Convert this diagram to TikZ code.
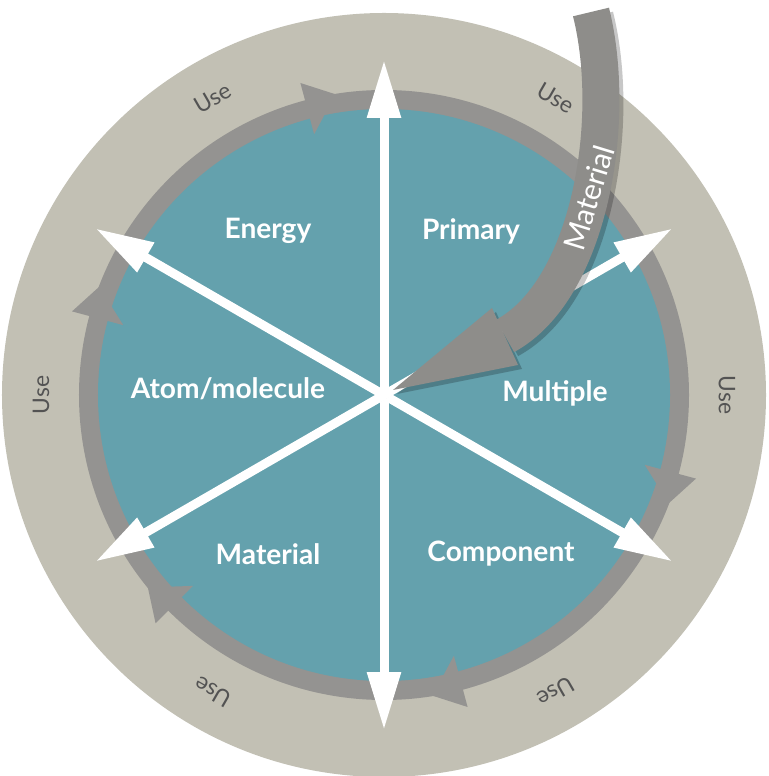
\documentclass[tikz,border=0pt]{standalone}
\usepackage{fontspec}
\setmainfont{Lato}
\usepackage{tikz}
\usetikzlibrary{arrows.meta}

\definecolor{UseBeige}{HTML}{C2C0B4}
\definecolor{RingGray}{HTML}{949391}
\definecolor{CycleTeal}{HTML}{64A1AD}
\definecolor{FlowGray}{HTML}{8E8D8A}
\definecolor{UseText}{HTML}{535353}

\begin{document}
\begin{tikzpicture}[x=0.02cm, y=0.02cm]
    \tikzstyle{sector}=[font=\fontsize{16}{19}\selectfont\bfseries, text=white]
    \tikzstyle{use-label}=[font=\fontsize{13}{15}\selectfont, text=UseText]
    \tikzstyle{band-label}=[font=\fontsize{17}{20}\selectfont, text=white]
    \tikzstyle{ring-head}=[fill=RingGray]
    \tikzstyle{fleche}=[{Triangle[length=1.16cm, width=0.64cm]}-{Triangle[length=1.16cm, width=0.64cm]}, line width=0.18cm, color=white,
        preaction={draw=black, opacity=0.18, transform canvas={shift={(2,-3)}}}]

    \useasboundingbox (-384,-381) rectangle (384,395);

    \fill[UseBeige] (0,0) circle (382);
    \fill[RingGray] (0,0) circle (305);
    \fill[CycleTeal] (0,0) circle (286);

    % arrowheads on the ring
    \fill[ring-head, rotate=105] (270,0) -- (323,0) -- (303,-31) -- cycle;
    \fill[ring-head, rotate=165] (270,0) -- (323,0) -- (303,-31) -- cycle;
    \fill[ring-head, rotate=225] (270,0) -- (323,0) -- (303,-31) -- cycle;
    \fill[ring-head, rotate=285] (270,0) -- (323,0) -- (303,-31) -- cycle;
    \fill[ring-head, rotate=345] (270,0) -- (323,0) -- (303,-31) -- cycle;

    \node[use-label, rotate=-90] (use-right) at (0:343) {Use};
    \node[use-label, rotate=-30] (use-top-right) at (60:343) {Use};
    \node[use-label, rotate=30] (use-top-left) at (120:343) {Use};
    \node[use-label, rotate=90] (use-left) at (180:343) {Use};
    \node[use-label, rotate=150] (use-bottom-left) at (240:343) {Use};
    \node[use-label, rotate=210] (use-bottom-right) at (300:343) {Use};

    \coordinate (tip-n) at (90:335);
    \coordinate (tip-s) at (270:335);
    \coordinate (tip-nw) at (150:333);
    \coordinate (tip-se) at (330:333);
    \coordinate (tip-sw) at (210:333);
    \coordinate (tip-ne) at (30:333);
    \draw[fleche] (tip-n) -- (tip-s);
    \draw[fleche] (tip-nw) -- (tip-se);
    \draw[fleche] (tip-sw) -- (tip-ne);

    \node[sector] (energy) at (-116,164) {Energy};
    \node[sector] (primary) at (87,164) {Primary};
    \node[sector] (atom-molecule) at (-156,6) {Atom/molecule};
    \node[sector] (multiple) at (171,2) {Multiple};
    \node[sector] (material) at (-116,-159) {Material};
    \node[sector] (component) at (117,-159) {Component};

    % incoming material
    \coordinate (band-start) at (207,383);
    \coordinate (band-end) at (121,59);
    \coordinate (head-left) at (134,30);
    \coordinate (head-tip) at (9,5);
    \coordinate (head-right) at (108,87);
    \begin{scope}[transform canvas={shift={(4,-4)}}, opacity=0.22]
        \draw[line width=0.74cm, black] (band-start) .. controls (234,275) and (206,105) .. (band-end);
        \fill[black] (head-left) -- (head-tip) -- (head-right) -- cycle;
    \end{scope}
    \draw[line width=0.74cm, FlowGray] (band-start) .. controls (234,275) and (206,105) .. (band-end);
    \fill[FlowGray] (head-left) -- (head-tip) -- (head-right) -- cycle;
    \node[band-label, rotate=73] (material-flow) at (205,197) {Material};
\end{tikzpicture}
\end{document}
